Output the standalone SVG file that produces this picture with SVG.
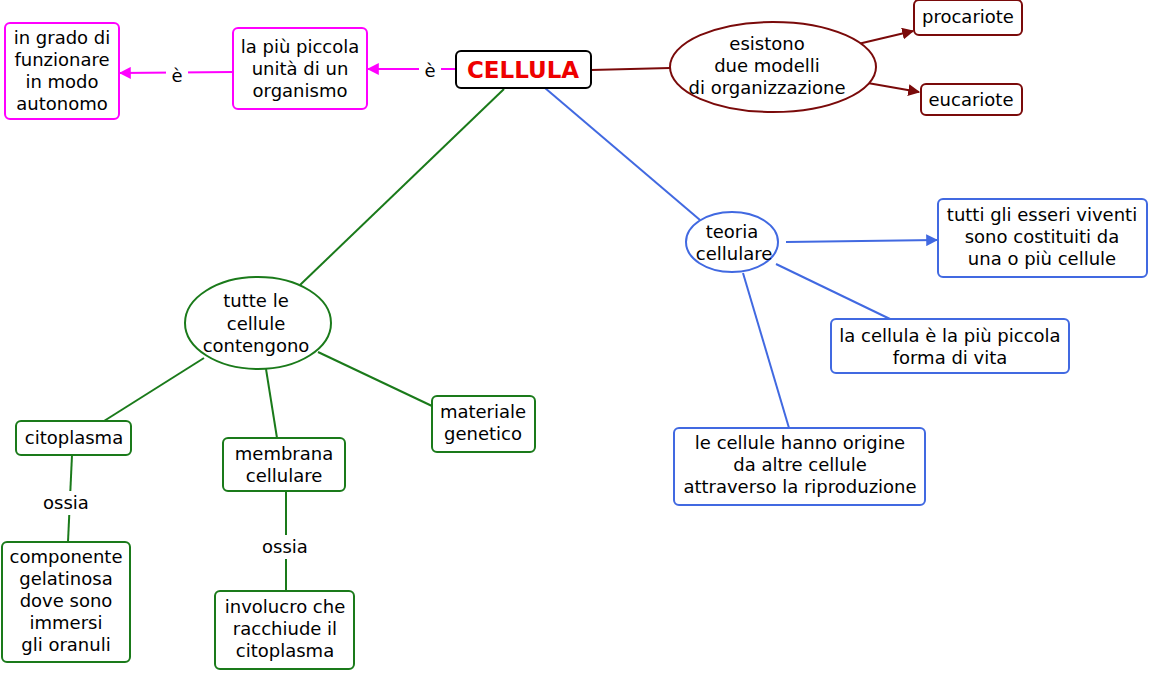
<svg xmlns="http://www.w3.org/2000/svg" width="1149" height="673" viewBox="0 0 1149 673">
<style>
text{font-family:"DejaVu Sans",Verdana,sans-serif;font-size:18px;fill:#000;text-anchor:middle}
.m{fill:#fff;stroke:#f0f;stroke-width:2}
.r{fill:#fff;stroke:#7a0a0a;stroke-width:2}
.b{fill:#fff;stroke:#4169e1;stroke-width:2}
.g{fill:#fff;stroke:#1a7a1a;stroke-width:2}
.lm{stroke:#f0f;stroke-width:2;fill:none}
.lr{stroke:#7a0a0a;stroke-width:2;fill:none}
.lb{stroke:#4169e1;stroke-width:2;fill:none}
.lg{stroke:#1a7a1a;stroke-width:2;fill:none}
.lab{fill:#fff}
</style>
<defs>
<marker id="am" viewBox="0 0 10 10" refX="9" refY="5" markerWidth="6" markerHeight="6" orient="auto"><path d="M0,0L10,5L0,10z" fill="#f0f"/></marker>
<marker id="ar" viewBox="0 0 10 10" refX="9" refY="5" markerWidth="6" markerHeight="6" orient="auto"><path d="M0,0L10,5L0,10z" fill="#7a0a0a"/></marker>
<marker id="ab" viewBox="0 0 10 10" refX="9" refY="5" markerWidth="6" markerHeight="6" orient="auto"><path d="M0,0L10,5L0,10z" fill="#4169e1"/></marker>
</defs>
<rect width="1149" height="673" fill="#fff"/>
<g id="connectors">
<line class="lm" x1="456" y1="69" x2="368" y2="69" marker-end="url(#am)"/>
<line class="lm" x1="233" y1="72" x2="120" y2="73" marker-end="url(#am)"/>
<line class="lr" x1="591" y1="70" x2="670" y2="68"/>
<line class="lr" x1="858" y1="44" x2="913" y2="31" marker-end="url(#ar)"/>
<line class="lr" x1="862" y1="82" x2="919" y2="92" marker-end="url(#ar)"/>
<line class="lb" x1="545" y1="88" x2="700" y2="220"/>
<line class="lb" x1="786" y1="242" x2="937" y2="240" marker-end="url(#ab)"/>
<line class="lb" x1="776" y1="264" x2="890" y2="319"/>
<line class="lb" x1="743" y1="273" x2="789" y2="428"/>
<line class="lg" x1="504" y1="89" x2="300" y2="285"/>
<line class="lg" x1="204" y1="358" x2="104" y2="421"/>
<line class="lg" x1="266" y1="369" x2="277" y2="438"/>
<line class="lg" x1="318" y1="352" x2="432" y2="406"/>
<line class="lg" x1="72" y1="455" x2="68" y2="542"/>
<line class="lg" x1="286" y1="491" x2="286" y2="591"/>
<rect class="lab" x="419" y="58" width="22" height="22"/><text x="430" y="77">è</text>
<rect class="lab" x="166" y="63" width="22" height="22"/><text x="177" y="82">è</text>
<rect class="lab" x="38" y="491" width="56" height="24"/><text x="66" y="509">ossia</text>
<rect class="lab" x="256" y="535" width="60" height="24"/><text x="285" y="553">ossia</text>
</g>
<g id="cellula"><rect x="456" y="51" width="135" height="37" rx="5" fill="#fff" stroke="#000" stroke-width="2"/><text x="523" y="78" style="font-size:23px;font-weight:bold;fill:#e00">CELLULA</text></g>
<g id="piccola"><rect class="m" x="233" y="28" width="134" height="81" rx="5"/><text x="300" y="53">la più piccola</text><text x="300" y="75">unità di un</text><text x="300" y="97">organismo</text></g>
<g id="grado"><rect class="m" x="5" y="23" width="114" height="96" rx="5"/><text x="62" y="44">in grado di</text><text x="62" y="66">funzionare</text><text x="62" y="88">in modo</text><text x="62" y="110">autonomo</text></g>
<g id="esistono"><ellipse class="r" cx="773" cy="67" rx="103" ry="45"/><text x="767" y="50">esistono</text><text x="767" y="72">due modelli</text><text x="767" y="94">di organizzazione</text></g>
<g id="procariote"><rect class="r" x="914" y="0" width="108" height="35" rx="5"/><text x="968" y="23">procariote</text></g>
<g id="eucariote"><rect class="r" x="921" y="84" width="101" height="31" rx="5"/><text x="971" y="106">eucariote</text></g>
<g id="teoria"><ellipse class="b" cx="732" cy="242" rx="46" ry="30"/><text x="732" y="238">teoria</text><text x="734" y="260">cellulare</text></g>
<g id="tutti"><rect class="b" x="938" y="199" width="209" height="78" rx="5"/><text x="1042" y="221">tutti gli esseri viventi</text><text x="1042" y="243">sono costituiti da</text><text x="1042" y="265">una o più cellule</text></g>
<g id="lacellula"><rect class="b" x="831" y="319" width="238" height="54" rx="5"/><text x="950" y="342">la cellula è la più piccola</text><text x="950" y="364">forma di vita</text></g>
<g id="origine"><rect class="b" x="674" y="428" width="251" height="77" rx="5"/><text x="800" y="449">le cellule hanno origine</text><text x="800" y="471">da altre cellule</text><text x="800" y="493">attraverso la riproduzione</text></g>
<g id="tutte"><ellipse class="g" cx="258" cy="323" rx="73" ry="46"/><text x="256" y="307">tutte le</text><text x="256" y="330">cellule</text><text x="256" y="352">contengono</text></g>
<g id="citoplasma"><rect class="g" x="16" y="421" width="115" height="34" rx="5"/><text x="74" y="444">citoplasma</text></g>
<g id="membrana"><rect class="g" x="223" y="438" width="122" height="53" rx="5"/><text x="284" y="460">membrana</text><text x="284" y="482">cellulare</text></g>
<g id="materiale"><rect class="g" x="432" y="396" width="103" height="56" rx="5"/><text x="483" y="418">materiale</text><text x="483" y="440">genetico</text></g>
<g id="componente"><rect class="g" x="2" y="542" width="128" height="120" rx="5"/><text x="66" y="563">componente</text><text x="66" y="585">gelatinosa</text><text x="66" y="607">dove sono</text><text x="66" y="629">immersi</text><text x="66" y="651">gli oranuli</text></g>
<g id="involucro"><rect class="g" x="215" y="591" width="139" height="78" rx="5"/><text x="285" y="613">involucro che</text><text x="285" y="635">racchiude il</text><text x="285" y="657">citoplasma</text></g>
</svg>
